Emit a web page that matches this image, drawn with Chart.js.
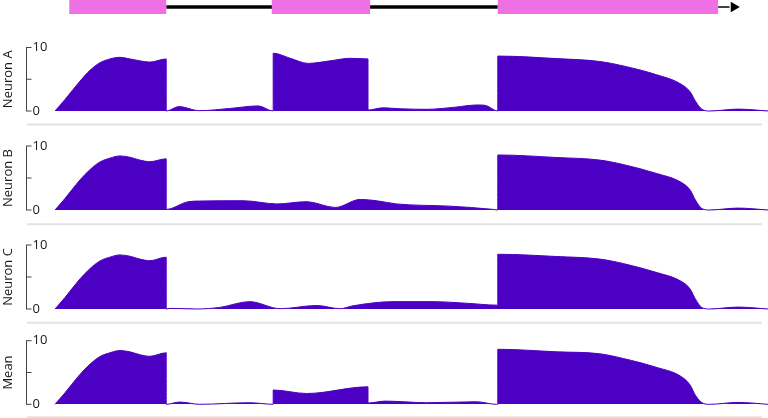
<!DOCTYPE html>
<html><head><meta charset="utf-8">
<script src="https://cdn.jsdelivr.net/npm/chart.js@4.4.1/dist/chart.umd.min.js"></script>
<style>
html,body{margin:0;padding:0;background:#fff;width:768px;height:418px;overflow:hidden}
#wrap{position:relative;width:768px;height:418px}
canvas{position:absolute;left:0}
</style></head><body><div id="wrap"></div>
<script>
// ---------- data ----------
const stimStart = [0.2, 3.04, 6.21];
const stimEnd   = [1.56, 4.42, 9.30];
const delayLine = [1.56, 6.21];
const tailLine  = [9.30, 9.46];
const arrowTip  = [9.52];

const panelNames = ['Neuron A', 'Neuron B', 'Neuron C', 'Mean'];
const yTickValues = [0, 5, 10];
const yTickLabels = ['0', '', '10'];

const tA = [0,0.14,0.24,0.35,0.49,0.63,0.77,0.91,1.05,1.19,1.33,1.56,1.56,1.74,2.02,2.45,2.85,3.06,3.06,3.30,3.55,3.86,4.14,4.39,4.39,4.60,4.84,5.22,5.61,5.92,6.03,6.21,6.21,7.04,7.64,7.97,8.44,8.77,8.91,8.98,9.07,9.18,9.58,10];
const vA = [0,1.8,3.2,4.7,6.4,7.6,8.2,8.45,8.2,7.9,7.7,8.2,0,0.7,0.05,0.4,0.8,0,9.1,8.3,7.5,7.9,8.3,8.2,0.15,0.5,0.35,0.27,0.6,0.95,0.9,0,8.65,8.25,7.8,7.1,5.7,4.3,3.0,1.6,0.3,0,0.3,0];

const tB = [0,0.14,0.24,0.35,0.49,0.63,0.77,0.91,1.05,1.19,1.33,1.56,1.56,1.87,2.03,2.64,3.11,3.53,3.93,4.28,4.51,4.79,5.54,6.14,6.21,6.21,7.04,7.64,7.97,8.44,8.77,8.91,8.98,9.07,9.18,9.58,10];
const vB = [0,1.8,3.2,4.7,6.3,7.5,8.1,8.45,8.25,7.8,7.55,8.0,0.1,1.3,1.4,1.45,0.95,1.3,0.4,1.65,1.45,0.95,0.6,0.1,0,8.6,8.2,7.8,7.1,5.7,4.4,3.1,1.6,0.25,0,0.3,0];

const tC = [0,0.14,0.24,0.35,0.49,0.63,0.77,0.91,1.05,1.19,1.33,1.56,1.56,1.61,1.99,2.31,2.73,3.16,3.67,4.00,4.18,4.74,5.30,5.77,6.21,6.21,7.04,7.64,7.97,8.44,8.77,8.91,8.98,9.07,9.18,9.58,10];
const vC = [0,1.8,3.2,4.7,6.3,7.5,8.1,8.45,8.25,7.8,7.55,8.1,0,0.1,0,0.25,1.15,0.05,0.55,0.05,0.5,1.15,1.15,0.9,0.6,8.55,8.2,7.8,7.1,5.7,4.4,3.1,1.6,0.25,0,0.3,0];

const tM = [0,0.14,0.24,0.35,0.49,0.63,0.77,0.91,1.05,1.19,1.33,1.56,1.56,1.75,2.03,2.73,3.06,3.06,3.53,4.39,4.39,4.63,5.21,5.91,6.19,6.21,6.21,7.04,7.64,7.97,8.44,8.77,8.91,8.98,9.09,9.18,9.58,10];
const vM = [0,1.8,3.2,4.7,6.3,7.5,8.1,8.45,8.25,7.8,7.55,8.1,0,0.35,0,0.25,0,2.25,1.7,2.75,0.2,0.5,0.25,0.4,0,0,8.65,8.25,7.95,7.2,5.8,4.45,3.0,1.45,0.15,0,0.3,0];

const panelTimes = [tA, tB, tC, tM];
const panelValues = [vA, vB, vC, vM];

// ---------- layout / style ----------
const PURPLE = '#4c00c3';
const PINK = '#ef70e4';
const X_MIN = 0, X_MAX = 10;
const panelLayout = [
  {top: 28,  top10: 47.5,  zero: 111,   sep: 124.5},
  {top: 126, top10: 146,   zero: 210,   sep: 224.3},
  {top: 225, top10: 245,   zero: 309,   sep: 322.7},
  {top: 321, top10: 340.7, zero: 404.3, sep: 417.3}
];
const FONT = '"Open Sans", "Noto Sans", sans-serif';
const wrap = document.getElementById('wrap');

function makeCanvas(top, height) {
  const c = document.createElement('canvas');
  c.width = 768; c.height = height;
  c.style.top = top + 'px';
  c.style.width = '768px'; c.style.height = height + 'px';
  wrap.appendChild(c);
  return c;
}

// ---------- timeline ----------
const tlCanvas = makeCanvas(0, 15);
const tlDatasets = [];
stimStart.forEach((s, i) => {
  tlDatasets.push({
    data: [{x: s, y: 1}, {x: stimEnd[i], y: 1}],
    borderColor: PINK, borderWidth: 14, borderCapStyle: 'butt',
    pointRadius: 0, clip: false
  });
});
tlDatasets.push({
  data: delayLine.map(x => ({x, y: 1})),
  borderColor: '#000', borderWidth: 3.5, borderCapStyle: 'butt', pointRadius: 0, clip: false
});
tlDatasets.push({
  data: tailLine.map(x => ({x, y: 1})),
  borderColor: '#000', borderWidth: 1.5, borderCapStyle: 'butt', pointRadius: 0, clip: false
});
tlDatasets.push({
  data: arrowTip.map(x => ({x, y: 1})),
  showLine: false, pointStyle: 'triangle', rotation: 90, pointRadius: 6,
  pointBackgroundColor: '#000', pointBorderColor: '#000', pointBorderWidth: 0, clip: false
});
new Chart(tlCanvas, {
  type: 'line',
  data: {datasets: tlDatasets},
  options: {
    responsive: false, animation: false, events: [],
    layout: {autoPadding: false, padding: {left: 55, right: 0, top: 0, bottom: 1}},
    plugins: {legend: {display: false}, tooltip: {enabled: false}},
    scales: {
      x: {type: 'linear', min: X_MIN, max: X_MAX, display: false},
      y: {type: 'linear', min: 0, max: 2, display: false}
    }
  }
});

// ---------- panels ----------
const panelDecor = {
  id: 'panelDecor',
  afterDraw(chart, args, opts) {
    const ctx = chart.ctx, ys = chart.scales.y;
    const axX = 26.5;
    const yTop = ys.getPixelForValue(10), yBot = ys.getPixelForValue(0);
    ctx.save();
    ctx.strokeStyle = '#444'; ctx.lineWidth = 1;
    ctx.beginPath();
    ctx.moveTo(axX, yTop); ctx.lineTo(axX, yBot);
    yTickValues.forEach(v => {
      const py = ys.getPixelForValue(v);
      ctx.moveTo(axX - 0.5, py); ctx.lineTo(axX + 5, py);
    });
    ctx.stroke();
    ctx.fillStyle = '#1a1a1a';
    ctx.font = '13px ' + FONT;
    ctx.textBaseline = 'middle'; ctx.textAlign = 'left';
    yTickValues.forEach((v, i) => {
      if (yTickLabels[i]) ctx.fillText(yTickLabels[i], axX + 6, ys.getPixelForValue(v));
    });
    // separator
    ctx.strokeStyle = '#e2e2e2'; ctx.lineWidth = 2;
    ctx.beginPath();
    ctx.moveTo(27, opts.sepY); ctx.lineTo(762, opts.sepY);
    ctx.stroke();
    // title
    ctx.translate(8.5, (yTop + yBot) / 2);
    ctx.rotate(-Math.PI / 2);
    ctx.textAlign = 'center';
    ctx.fillText(opts.title, 0, 0);
    ctx.restore();
  }
};

panelNames.forEach((name, i) => {
  const L = panelLayout[i];
  const h = Math.ceil(L.sep + 2 - L.top);
  const cv = makeCanvas(L.top, h);
  const pts = panelTimes[i].map((t, k) => ({x: t, y: panelValues[i][k]}));
  new Chart(cv, {
    type: 'line',
    data: {datasets: [{
      data: pts,
      fill: 'origin',
      backgroundColor: PURPLE,
      borderColor: PURPLE,
      borderWidth: 1,
      pointRadius: 0,
      cubicInterpolationMode: 'monotone',
      clip: false
    }]},
    options: {
      responsive: false, animation: false, events: [],
      layout: {autoPadding: false, padding: {left: 55, right: 0, top: L.top10 - L.top, bottom: (L.top + h) - L.zero}},
      plugins: {
        legend: {display: false}, tooltip: {enabled: false},
        panelDecor: {title: name, sepY: L.sep - L.top}
      },
      scales: {
        x: {type: 'linear', min: X_MIN, max: X_MAX, display: false},
        y: {type: 'linear', min: 0, max: 10, display: false}
      }
    },
    plugins: [panelDecor]
  });
});
</script>
</body></html>
